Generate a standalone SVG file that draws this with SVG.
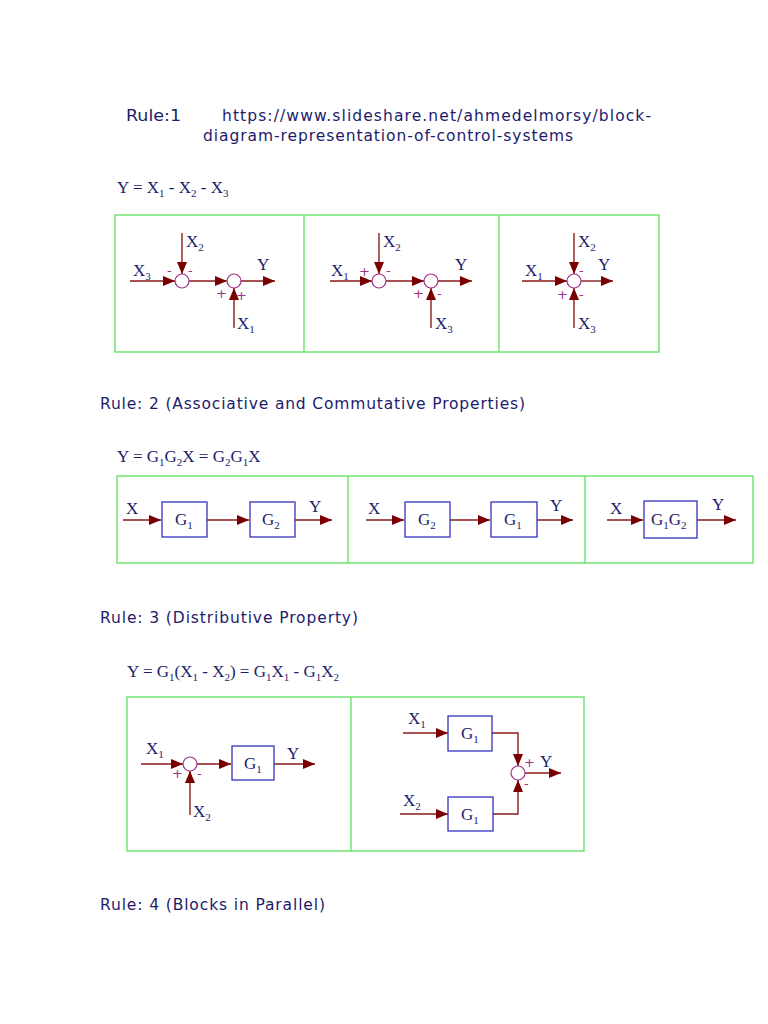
<svg xmlns="http://www.w3.org/2000/svg" width="768" height="1024" viewBox="0 0 768 1024">
<style>
.h{font-family:"DejaVu Sans",Verdana,sans-serif;font-size:15.5px;fill:#1c1c6b}
.t{font-family:"Liberation Serif","Times New Roman",serif;font-size:17px;fill:#1c1c6b}
.s{font-size:11px}
.g{fill:none;stroke:#5ee05e;stroke-width:1.3}
.w{fill:none;stroke:#8b1a1a;stroke-width:1.4}
.c{fill:#fff;stroke:#a0308a;stroke-width:1.2}
.b{fill:#fff;stroke:#3434c0;stroke-width:1.3}
.p{font-family:"DejaVu Sans",sans-serif;font-size:13px;fill:#a0308a}
</style>
<defs>
<marker id="a" markerUnits="userSpaceOnUse" markerWidth="14" markerHeight="12" refX="12" refY="5" orient="auto"><path d="M0,0 L12,5 L0,10 Z" fill="#7a0000"/></marker>
</defs>
<rect width="768" height="1024" fill="#fff"/>
<text class="h" x="126" y="121" textLength="55" lengthAdjust="spacingAndGlyphs">Rule:1</text>
<text class="h" x="222" y="121" textLength="429" lengthAdjust="spacing">https://www.slideshare.net/ahmedelmorsy/block-</text>
<text class="h" x="203" y="141" textLength="370" lengthAdjust="spacing">diagram-representation-of-control-systems</text>
<text class="t" x="117" y="193">Y = X<tspan class="s" dy="4">1</tspan><tspan dy="-4"> - X</tspan><tspan class="s" dy="4">2</tspan><tspan dy="-4"> - X</tspan><tspan class="s" dy="4">3</tspan></text>

<g id="rule1-frames">
<rect class="g" x="115" y="215" width="544" height="137"/>
<line class="g" x1="304" y1="215" x2="304" y2="352"/>
<line class="g" x1="499" y1="215" x2="499" y2="352"/>
</g>
<g id="connectors" marker-end="url(#a)">
<line class="w" x1="130" y1="281" x2="175" y2="281"/>
<line class="w" x1="182" y1="233" x2="182" y2="274"/>
<line class="w" x1="189" y1="281" x2="227" y2="281"/>
<line class="w" x1="241" y1="281" x2="275" y2="281"/>
<line class="w" x1="234" y1="328" x2="234" y2="288"/>

<line class="w" x1="330" y1="281" x2="372" y2="281"/>
<line class="w" x1="379" y1="233" x2="379" y2="274"/>
<line class="w" x1="386" y1="281" x2="424" y2="281"/>
<line class="w" x1="438" y1="281" x2="472" y2="281"/>
<line class="w" x1="431" y1="328" x2="431" y2="288"/>

<line class="w" x1="522" y1="281" x2="567" y2="281"/>
<line class="w" x1="574" y1="233" x2="574" y2="274"/>
<line class="w" x1="574" y1="328" x2="574" y2="288"/>
<line class="w" x1="581" y1="281" x2="613" y2="281"/>

<line class="w" x1="123" y1="520" x2="161" y2="520"/>
<line class="w" x1="207" y1="520" x2="249" y2="520"/>
<line class="w" x1="295" y1="520" x2="332" y2="520"/>
<line class="w" x1="366" y1="520" x2="404" y2="520"/>
<line class="w" x1="450" y1="520" x2="490" y2="520"/>
<line class="w" x1="537" y1="520" x2="573" y2="520"/>
<line class="w" x1="607" y1="520" x2="643" y2="520"/>
<line class="w" x1="697" y1="520" x2="736" y2="520"/>

<line class="w" x1="141" y1="764" x2="183" y2="764"/>
<line class="w" x1="190" y1="815" x2="190" y2="771"/>
<line class="w" x1="197" y1="764" x2="231" y2="764"/>
<line class="w" x1="274" y1="764" x2="315" y2="764"/>

<line class="w" x1="403" y1="733" x2="448" y2="733"/>
<line class="w" x1="400" y1="814" x2="448" y2="814"/>
<polyline class="w" points="492,733 518,733 518,766"/>
<polyline class="w" points="492,814 518,814 518,780"/>
<line class="w" x1="525" y1="773" x2="561" y2="773"/>
</g>

<g id="sum1a"><circle class="c" cx="182" cy="281" r="7"/></g>
<g id="sum1b"><circle class="c" cx="234" cy="281" r="7"/></g>
<g id="sum2a"><circle class="c" cx="379" cy="281" r="7"/></g>
<g id="sum2b"><circle class="c" cx="431" cy="281" r="7"/></g>
<g id="sum3"><circle class="c" cx="574" cy="281" r="7"/></g>

<text class="t" x="133" y="276">X<tspan class="s" dy="4">3</tspan></text>
<text class="t" x="186" y="247">X<tspan class="s" dy="4">2</tspan></text>
<text class="t" x="257" y="270">Y</text>
<text class="t" x="237" y="329">X<tspan class="s" dy="4">1</tspan></text>
<text class="p" x="167" y="275">-</text><text class="p" x="188" y="275">-</text>
<text class="p" x="216" y="298">+</text><text class="p" x="236" y="300">+</text>

<text class="t" x="331" y="276">X<tspan class="s" dy="4">1</tspan></text>
<text class="t" x="383" y="247">X<tspan class="s" dy="4">2</tspan></text>
<text class="t" x="455" y="270">Y</text>
<text class="t" x="435" y="329">X<tspan class="s" dy="4">3</tspan></text>
<text class="p" x="359" y="276">+</text><text class="p" x="386" y="275">-</text>
<text class="p" x="413" y="298">+</text><text class="p" x="437" y="298">-</text>

<text class="t" x="525" y="276">X<tspan class="s" dy="4">1</tspan></text>
<text class="t" x="578" y="247">X<tspan class="s" dy="4">2</tspan></text>
<text class="t" x="598" y="270">Y</text>
<text class="t" x="578" y="329">X<tspan class="s" dy="4">3</tspan></text>
<text class="p" x="579" y="275">-</text>
<text class="p" x="557" y="299">+</text><text class="p" x="579" y="299">-</text>

<text class="h" x="100" y="409" textLength="425" lengthAdjust="spacing">Rule: 2 (Associative and Commutative Properties)</text>
<text class="t" x="117" y="462">Y = G<tspan class="s" dy="4">1</tspan><tspan dy="-4">G</tspan><tspan class="s" dy="4">2</tspan><tspan dy="-4">X = G</tspan><tspan class="s" dy="4">2</tspan><tspan dy="-4">G</tspan><tspan class="s" dy="4">1</tspan><tspan dy="-4">X</tspan></text>
<g id="rule2-frames">
<rect class="g" x="117" y="476" width="636" height="87"/>
<line class="g" x1="348" y1="476" x2="348" y2="563"/>
<line class="g" x1="585" y1="476" x2="585" y2="563"/>
</g>
<g id="r2g1"><rect class="b" x="162" y="502" width="45" height="35"/><text class="t" x="175" y="525">G<tspan class="s" dy="4">1</tspan></text></g>
<g id="r2g2"><rect class="b" x="250" y="502" width="45" height="35"/><text class="t" x="262" y="525">G<tspan class="s" dy="4">2</tspan></text></g>
<g id="r2g2b"><rect class="b" x="405" y="502" width="45" height="35"/><text class="t" x="418" y="525">G<tspan class="s" dy="4">2</tspan></text></g>
<g id="r2g1b"><rect class="b" x="491" y="502" width="46" height="35"/><text class="t" x="504" y="525">G<tspan class="s" dy="4">1</tspan></text></g>
<g id="r2g12"><rect class="b" x="644" y="501" width="53" height="37"/><text class="t" x="651" y="525">G<tspan class="s" dy="4">1</tspan><tspan dy="-4">G</tspan><tspan class="s" dy="4">2</tspan></text></g>
<text class="t" x="126" y="514">X</text><text class="t" x="309" y="512">Y</text>
<text class="t" x="368" y="514">X</text><text class="t" x="550" y="511">Y</text>
<text class="t" x="610" y="514">X</text><text class="t" x="712" y="510">Y</text>

<text class="h" x="100" y="623" textLength="258" lengthAdjust="spacing">Rule: 3 (Distributive Property)</text>
<text class="t" x="127" y="677">Y = G<tspan class="s" dy="4">1</tspan><tspan dy="-4">(X</tspan><tspan class="s" dy="4">1</tspan><tspan dy="-4"> - X</tspan><tspan class="s" dy="4">2</tspan><tspan dy="-4">) = G</tspan><tspan class="s" dy="4">1</tspan><tspan dy="-4">X</tspan><tspan class="s" dy="4">1</tspan><tspan dy="-4"> - G</tspan><tspan class="s" dy="4">1</tspan><tspan dy="-4">X</tspan><tspan class="s" dy="4">2</tspan></text>
<g id="rule3-frames">
<rect class="g" x="127" y="697" width="457" height="154"/>
<line class="g" x1="351" y1="697" x2="351" y2="851"/>
</g>
<g id="sum4"><circle class="c" cx="190" cy="764" r="7"/></g>
<g id="r3g1"><rect class="b" x="232" y="746" width="42" height="34"/><text class="t" x="244" y="769">G<tspan class="s" dy="4">1</tspan></text></g>
<text class="t" x="146" y="754">X<tspan class="s" dy="4">1</tspan></text>
<text class="t" x="193" y="817">X<tspan class="s" dy="4">2</tspan></text>
<text class="t" x="287" y="759">Y</text>
<text class="p" x="172" y="778">+</text><text class="p" x="197" y="778">-</text>

<g id="r3g1a"><rect class="b" x="448" y="716" width="44" height="35"/><text class="t" x="461" y="739">G<tspan class="s" dy="4">1</tspan></text></g>
<g id="r3g1b"><rect class="b" x="448" y="797" width="45" height="34"/><text class="t" x="461" y="820">G<tspan class="s" dy="4">1</tspan></text></g>
<g id="sum5"><circle class="c" cx="518" cy="773" r="7"/></g>
<text class="t" x="408" y="724">X<tspan class="s" dy="4">1</tspan></text>
<text class="t" x="403" y="806">X<tspan class="s" dy="4">2</tspan></text>
<text class="t" x="540" y="767">Y</text>
<text class="p" x="524" y="767">+</text><text class="p" x="524" y="788">-</text>

<text class="h" x="100" y="910" textLength="225" lengthAdjust="spacing">Rule: 4 (Blocks in Parallel)</text>
</svg>
